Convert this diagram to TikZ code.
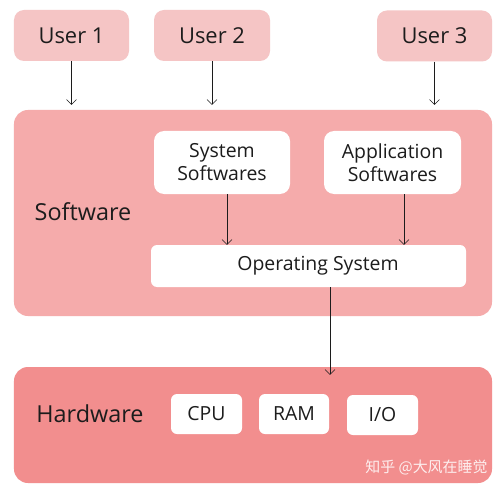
\documentclass[tikz,border=0pt]{standalone}
\usepackage{fontspec}
\setmainfont{Open Sans}
\newfontfamily\cjk{Noto Sans CJK SC}
\usetikzlibrary{arrows.meta}
\definecolor{userpink}{HTML}{F5C5C5}
\definecolor{softpink}{HTML}{F5ABAB}
\definecolor{hardpink}{HTML}{F28E8E}
\definecolor{inktext}{HTML}{1C1C1C}
\tikzset{box/.style={rounded corners=10bp, inner sep=0pt, align=center, text=inktext},
         userbox/.style={box, fill=userpink, minimum height=51bp, font=\fontsize{22}{25}\selectfont},
         whitebox/.style={box, fill=white, font=\fontsize{19.5}{23}\selectfont},
         layer/.style={box, rounded corners=14bp, minimum width=478bp},
         flow/.style={draw=inktext, thin, -{Straight Barb[length=5bp,width=10bp]}}}

\begin{document}
\begin{tikzpicture}[x=1bp,y=-1bp]
   \useasboundingbox[fill=white] (0,0) rectangle (504,493);
   % users
   \node[userbox, minimum width=115bp] (u1) at ( 71.5,35.5) {User 1};
   \node[userbox, minimum width=116bp] (u2) at (212.0,35.5) {User 2};
   \node[userbox, minimum width=115bp] (u3) at (434.5,36.0) {User 3};
   % layers
   \node[layer, fill=softpink, minimum height=206bp] (sw) at (253,213) {};
   \node[layer, fill=hardpink, minimum height=116bp] (hw) at (253,425) {};
   \node[text=inktext, font=\fontsize{23.5}{26}\selectfont] (swlabel) at (83,212) {Software};
   \node[text=inktext, font=\fontsize{23.5}{26}\selectfont] (hwlabel) at (90,414) {Hardware};
   % software parts
   \node[whitebox, minimum width=136bp, minimum height=63bp] (syssw) at (222.0,162.5) {System\\Softwares};
   \node[whitebox, minimum width=137bp, minimum height=63bp] (appsw) at (392.5,162.5) {Application\\Softwares};
   \node[whitebox, rounded corners=6bp, minimum width=315bp, minimum height=42bp] (os) at (308.5,266) {\hspace{19bp}Operating System};
   % hardware parts
   \node[whitebox, rounded corners=6bp, minimum width=71bp, minimum height=40bp] (cpu) at (206.5,414) {CPU};
   \node[whitebox, rounded corners=6bp, minimum width=70bp, minimum height=40bp] (ram) at (294.0,414) {RAM};
   \node[whitebox, rounded corners=6bp, minimum width=71bp, minimum height=40bp] (io)  at (382.5,415) {I/O};
   % arrows
   \draw[flow, shorten >=5bp] (u1.south) -- (u1.south |- sw.north);
   \draw[flow, shorten >=5bp] (u2.south) -- (u2.south |- sw.north);
   \draw[flow, shorten >=5bp] (u3.south) -- (u3.south |- sw.north);
   \draw[flow] ([xshift=5bp]syssw.south) -- ([xshift=5bp]syssw.south |- os.north);
   \draw[flow] ([xshift=11.5bp]appsw.south) -- ([xshift=11.5bp]appsw.south |- os.north);
   \draw[flow, shorten >=-8bp] ([xshift=21.5bp]os.south) -- ([xshift=21.5bp]os.south |- hw.north);
   % watermark
   \node[text=white, opacity=0.85, font=\cjk\fontsize{15}{17}\selectfont, anchor=east] (mark) at (491,468) {知乎 @大风在睡觉};
\end{tikzpicture}
\end{document}
